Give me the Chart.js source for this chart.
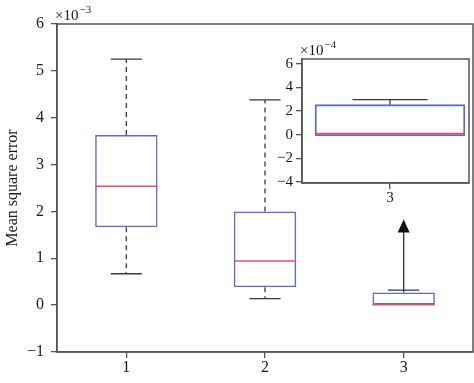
<!DOCTYPE html>
<html>
<head>
<meta charset="utf-8">
<script src="https://cdn.jsdelivr.net/npm/chart.js@4/dist/chart.umd.min.js"></script>
<style>
  body { margin: 0; background: #fff; }
  #wrap { position: relative; width: 474px; height: 383px; }
  #main { position: absolute; left: 0; top: 0; }
  #inset { position: absolute; left: 262px; top: 36px; }
</style>
</head>
<body>
<div id="wrap">
  <canvas id="main" width="474" height="383"></canvas>
  <canvas id="inset" width="212" height="174"></canvas>
</div>
<script>
// main plot, values in units of 1e-3
const categories = ['1', '2', '3'];
const whiskerLow = [0.67, 0.14, 0.0];
const q1 = [1.66, 0.38, 0.0];
const median = [2.54, 0.94, 0.01];
const q3 = [3.63, 2.0, 0.27];
const whiskerHigh = [5.25, 4.38, 0.32];
const yTicks = [-1, 0, 1, 2, 3, 4, 5, 6];
const arrowTip = 1.83; // where the arrow up to the zoom ends

// inset (box 3 zoomed), values in units of 1e-4
const insetCategory = [3];
const insetLow = [-0.12];
const insetQ1 = [-0.12];
const insetMedian = [0.1];
const insetQ3 = [2.53];
const insetHigh = [2.96];
const insetTicks = [-4, -2, 0, 2, 4, 6];

const BLUE = '#5e6cc8';
const RED = '#e8505a';
const AXIS = '#555';
const TXT = '#1a1a1a';
const SERIF = "'Liberation Serif', 'DejaVu Serif', serif";

function minus(v) {
    return v < 0 ? '\u2212' + Math.abs(v) : '' + v;
}

// whiskers, caps, medians, frame and exponent label
const boxPlugin = {
    id: 'boxDraw',
    afterDatasetsDraw(chart, args, opts) {
        const ctx = chart.ctx;
        const y = chart.scales.y;
        const bars = chart.getDatasetMeta(0).data;
        ctx.save();
        bars.forEach(function(bar, i) {
            const x = bar.x;
            const half = bar.width / 2;
            ctx.strokeStyle = '#3a3a3a';
            ctx.lineWidth = 1.3;
            ctx.setLineDash([5, 4]);
            ctx.beginPath();
            if (opts.high[i] > opts.q3[i]) {
                ctx.moveTo(x, y.getPixelForValue(opts.q3[i]));
                ctx.lineTo(x, y.getPixelForValue(opts.high[i]));
            }
            if (opts.low[i] < opts.q1[i]) {
                ctx.moveTo(x, y.getPixelForValue(opts.q1[i]));
                ctx.lineTo(x, y.getPixelForValue(opts.low[i]));
            }
            ctx.stroke();
            ctx.setLineDash([]);
            ctx.beginPath();
            // caps
            ctx.moveTo(x - half / 2, y.getPixelForValue(opts.high[i]));
            ctx.lineTo(x + half / 2, y.getPixelForValue(opts.high[i]));
            if (opts.low[i] < opts.q1[i]) {
                ctx.moveTo(x - half / 2, y.getPixelForValue(opts.low[i]));
                ctx.lineTo(x + half / 2, y.getPixelForValue(opts.low[i]));
            }
            ctx.stroke();
            ctx.strokeStyle = RED;
            ctx.lineWidth = 1.5;
            ctx.beginPath();
            ctx.moveTo(x - half, y.getPixelForValue(opts.med[i]));
            ctx.lineTo(x + half, y.getPixelForValue(opts.med[i]));
            ctx.stroke();
        });
        // frame
        const a = chart.chartArea;
        ctx.strokeStyle = AXIS;
        ctx.lineWidth = 1.5;
        ctx.strokeRect(a.left, a.top, a.right - a.left, a.bottom - a.top);
        // exponent label
        ctx.fillStyle = TXT;
        ctx.textBaseline = 'alphabetic';
        ctx.font = '15px ' + SERIF;
        ctx.fillText('\u00d710', a.left - 2, a.top - 4);
        const w = ctx.measureText('\u00d710').width;
        ctx.font = '11px ' + SERIF;
        ctx.fillText(opts.exp, a.left - 2 + w + 1, a.top - 11);
        // arrow
        if (opts.arrow) {
            const bar = bars[opts.arrow.index];
            const y0 = y.getPixelForValue(opts.arrow.from);
            const y1 = y.getPixelForValue(opts.arrow.to);
            ctx.strokeStyle = '#333';
            ctx.lineWidth = 1.3;
            ctx.beginPath();
            ctx.moveTo(bar.x, y0);
            ctx.lineTo(bar.x, y1 + 10);
            ctx.stroke();
            ctx.fillStyle = '#111';
            ctx.beginPath();
            ctx.moveTo(bar.x, y1);
            ctx.lineTo(bar.x - 6, y1 + 13);
            ctx.lineTo(bar.x + 6, y1 + 13);
            ctx.closePath();
            ctx.fill();
        }
        ctx.restore();
    }
};

function axisGrid() {
    return { display: true, drawOnChartArea: false, drawTicks: true, tickLength: 6, color: AXIS, lineWidth: 1.3, offset: false };
}

new Chart(document.getElementById('main').getContext('2d'), {
    type: 'bar',
    data: {
        labels: categories,
        datasets: [{
            data: categories.map((c, i) => [q1[i], q3[i]]),
            backgroundColor: 'rgba(0,0,0,0)',
            borderColor: BLUE,
            borderWidth: 1.5,
            borderSkipped: false,
            barPercentage: 0.45,
            categoryPercentage: 1
        }]
    },
    options: {
        responsive: false,
        animation: false,
        layout: { padding: { top: 24, right: 1, left: 0, bottom: 0 } },
        plugins: {
            legend: { display: false },
            tooltip: { enabled: false },
            boxDraw: {
                low: whiskerLow, q1: q1, med: median, q3: q3, high: whiskerHigh, exp: '\u22123',
                arrow: { index: 2, from: whiskerHigh[2], to: arrowTip }
            }
        },
        scales: {
            x: {
                grid: axisGrid(),
                border: { display: true, color: AXIS, width: 1.5 },
                ticks: { color: TXT, font: { family: SERIF, size: 16 }, padding: 0 },
                afterFit: s => { s.height = 31; }
            },
            y: {
                min: -1, max: 6,
                afterBuildTicks: s => { s.ticks = yTicks.map(v => ({ value: v })); },
                grid: axisGrid(),
                border: { display: true, color: AXIS, width: 1.5 },
                ticks: { color: TXT, font: { family: SERIF, size: 16 }, padding: 7, callback: v => minus(v) },
                title: { display: true, text: 'Mean square error', color: TXT, font: { family: SERIF, size: 16 }, padding: { top: 3, bottom: 0 } },
                afterFit: s => { s.width = 57; }
            }
        }
    },
    plugins: [boxPlugin]
});

new Chart(document.getElementById('inset').getContext('2d'), {
    type: 'bar',
    data: {
        datasets: [{
            data: insetCategory.map((c, i) => ({ x: c, y: [insetQ1[i], insetQ3[i]] })),
            backgroundColor: 'rgba(0,0,0,0)',
            borderColor: BLUE,
            borderWidth: 1.3,
            borderSkipped: false,
            barThickness: 150
        }]
    },
    options: {
        responsive: false,
        animation: false,
        layout: { padding: { top: 23, right: 5, left: 0, bottom: 0 } },
        plugins: {
            legend: { display: false },
            tooltip: { enabled: false },
            boxDraw: { low: insetLow, q1: insetQ1, med: insetMedian, q3: insetQ3, high: insetHigh, exp: '\u22124' }
        },
        scales: {
            x: {
                type: 'linear', min: 2.443, max: 3.5, offset: false,
                afterBuildTicks: s => { s.ticks = insetCategory.map(v => ({ value: v })); },
                grid: axisGrid(),
                border: { display: true, color: AXIS, width: 1.5 },
                ticks: { color: TXT, font: { family: SERIF, size: 15 }, padding: 0 },
                afterFit: s => { s.height = 27; }
            },
            y: {
                min: -4.1, max: 6.4,
                afterBuildTicks: s => { s.ticks = insetTicks.map(v => ({ value: v })); },
                grid: axisGrid(),
                border: { display: true, color: AXIS, width: 1.5 },
                ticks: { color: TXT, font: { family: SERIF, size: 15 }, padding: 3, callback: v => minus(v) },
                afterFit: s => { s.width = 40; }
            }
        }
    },
    plugins: [boxPlugin]
});
</script>
</body>
</html>
